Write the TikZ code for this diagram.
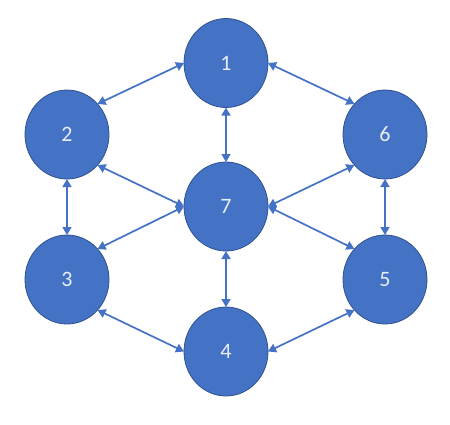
\documentclass[tikz,border=0pt]{standalone}
\usepackage{fontspec}
\setmainfont{Carlito}
\usetikzlibrary{shapes.geometric,arrows.meta}
\definecolor{nodeblue}{HTML}{4472C4}
\definecolor{nodeedge}{HTML}{2F528F}
\definecolor{txt}{HTML}{E8EEF8}
\begin{document}
\begin{tikzpicture}[x=1pt,y=-1pt,
  vtx/.style={ellipse, fill=nodeblue, draw=nodeedge, line width=0.8pt,
    minimum width=84pt, minimum height=89pt, inner sep=0pt, outer sep=0pt,
    text=txt, font=\fontsize{22}{24}\selectfont},
  link/.style={draw=nodeblue, line width=1.7pt,
    {Triangle[length=8pt,width=9pt]}-{Triangle[length=8pt,width=9pt]}}]
\useasboundingbox (0,0) rectangle (450,424);
\node[vtx] (n1) at (226,63) {1};
\node[vtx] (n2) at (67,134.5) {2};
\node[vtx] (n6) at (385,134.5) {6};
\node[vtx] (n7) at (226,206.5) {7};
\node[vtx] (n3) at (67,279.5) {3};
\node[vtx] (n5) at (385,279.5) {5};
\node[vtx] (n4) at (226,351.5) {4};
\draw[link] (n1.west) -- (n2.45);
\draw[link] (n1.east) -- (n6.135);
\draw[link] (n1.south) -- (n7.north);
\draw[link] (n2.-45) -- (n7.west);
\draw[link] (n6.-135) -- (n7.east);
\draw[link] (n2.south) -- (n3.north);
\draw[link] (n6.south) -- (n5.north);
\draw[link] (n7.west) -- (n3.45);
\draw[link] (n7.east) -- (n5.135);
\draw[link] (n7.south) -- (n4.north);
\draw[link] (n3.-45) -- (n4.west);
\draw[link] (n4.east) -- (n5.-135);
\end{tikzpicture}
\end{document}
